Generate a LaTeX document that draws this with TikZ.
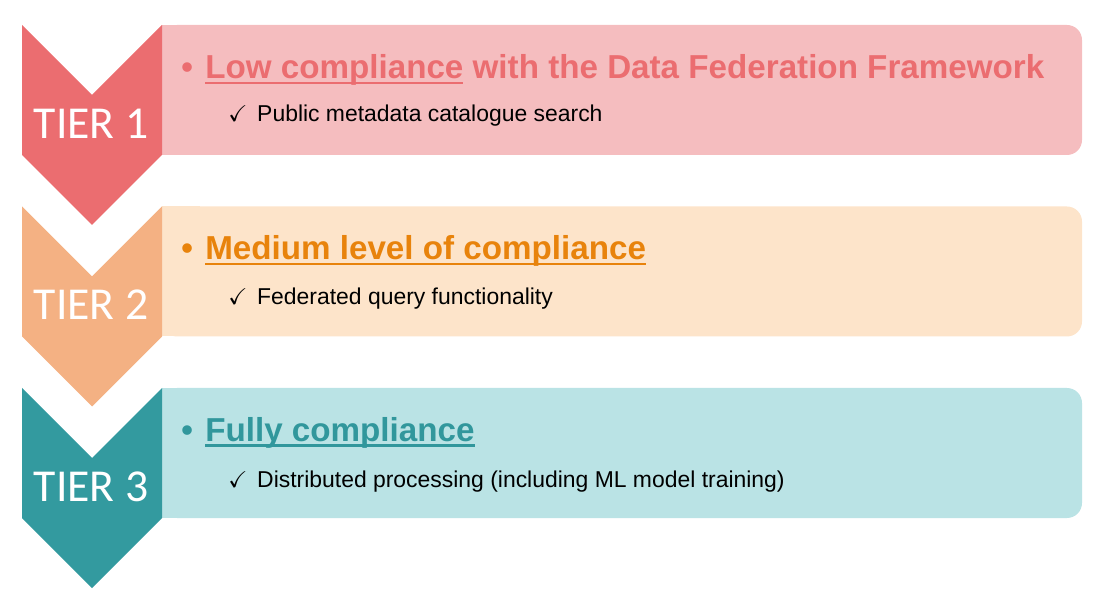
\documentclass[tikz,border=0pt]{standalone}
\usepackage{amssymb}
\usepackage{fontspec}
\usepackage{tikz}

\setmainfont{Liberation Sans}
\newfontfamily\tierfont{Carlito}
% underline for the headings
\newcommand{\headul}[1]{\setbox0\hbox{#1}\rlap{\rule[-3.9pt]{\wd0}{1.9pt}}\box0}

\definecolor{oneDark}{HTML}{EB6D70}
\definecolor{oneLight}{HTML}{F5BDBF}
\definecolor{twoDark}{HTML}{F4B183}
\definecolor{twoLight}{HTML}{FDE4CA}
\definecolor{twoText}{HTML}{E8830C}
\definecolor{threeDark}{HTML}{339A9F}
\definecolor{threeLight}{HTML}{BAE3E5}
\definecolor{threeText}{HTML}{31979C}

\tikzset{
  tierbox/.style={rounded corners=0.375cm},
  tierlab/.style={text=white, inner sep=0, font=\tierfont\fontsize{32.5}{39}\selectfont},
  headline/.style={anchor=base west, inner sep=0, font=\bfseries\fontsize{23.6}{28}\selectfont},
  checkitem/.style={anchor=base west, inner sep=0, text=black, font=\fontsize{16.3}{20}\selectfont}
}

\begin{document}
\begin{tikzpicture}[x=0.025cm, y=-0.025cm]
            \useasboundingbox (0,0) rectangle (1100,603);
            % tier 1
            \fill [tierbox, oneLight] (162,25) rectangle (1082,155);
            \fill [oneLight] (162,25) rectangle (200,155);
            \fill [oneDark] (22,25) -- (92,95) -- (162,25) -- (162,155) -- (92,225) -- (22,155) -- cycle;
            \node [tierlab] (tier1) at (91,124) {TIER 1};
            \node [headline, text=oneDark] (head1) at (181,79) {\textbullet\hspace{8.8pt}\headul{Low compliance}\ with the Data Federation Framework};
            \node [checkitem] (item1) at (228,122) {$\checkmark$\hspace{7pt}Public metadata catalogue search};
            % tier 2
            \fill [tierbox, twoLight] (162,206.5) rectangle (1082,336.5);
            \fill [twoLight] (162,206.5) rectangle (200,336.5);
            \fill [twoDark] (22,206.5) -- (92,276.5) -- (162,206.5) -- (162,336.5) -- (92,406.5) -- (22,336.5) -- cycle;
            \node [tierlab] (tier2) at (91,305) {TIER 2};
            \node [headline, text=twoText] (head2) at (181,260) {\textbullet\hspace{8.8pt}\headul{Medium level of compliance}};
            \node [checkitem] (item2) at (228,304.5) {$\checkmark$\hspace{7pt}Federated query functionality};
            % tier 3
            \fill [tierbox, threeLight] (162,388) rectangle (1082,518);
            \fill [threeLight] (162,388) rectangle (200,518);
            \fill [threeDark] (22,388) -- (92,458) -- (162,388) -- (162,518) -- (92,588) -- (22,518) -- cycle;
            \node [tierlab] (tier3) at (91,486.5) {TIER 3};
            \node [headline, text=threeText] (head3) at (181,441.5) {\textbullet\hspace{8.8pt}\headul{Fully compliance}};
            \node [checkitem] (item3) at (228,487) {$\checkmark$\hspace{7pt}Distributed processing (including ML model training)};
        \end{tikzpicture}
\end{document}
